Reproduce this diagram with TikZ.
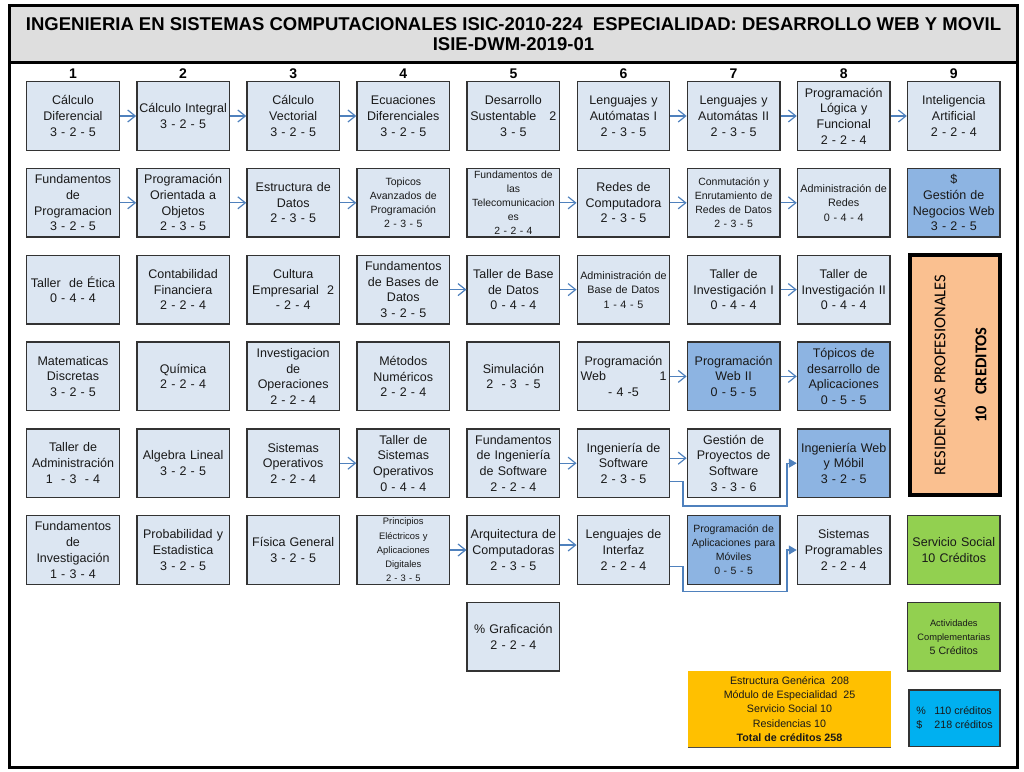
\documentclass[tikz,border=0pt]{standalone}
\usepackage{fontspec}
\setmainfont{Liberation Sans}
\newfontfamily\calibfont{Carlito}
\usetikzlibrary{arrows.meta}
\definecolor{lightbox}{HTML}{DCE6F2}
\definecolor{darkbox}{HTML}{8DB4E2}
\definecolor{arrowblue}{HTML}{4F81BD}
\definecolor{resfill}{HTML}{FAC090}
\definecolor{greenbox}{HTML}{92D050}
\definecolor{orangebox}{HTML}{FFC000}
\definecolor{cyanbox}{HTML}{00B0F0}
\definecolor{titlegray}{HTML}{DEDEDE}
\newcommand\myfs[2]{\fontsize{#1}{#2}\selectfont}
\begin{document}
\begin{tikzpicture}[x=1pt,y=-1pt,
 course/.style={draw=black!80, line width=1.4pt, fill=lightbox, minimum width=92.5pt, minimum height=68.5pt, inner sep=0pt, text width=92pt, align=center, font=\myfs{12.5}{15.7}, text=black!90},
 spec/.style={course, fill=darkbox},
 midfont/.style={font=\myfs{10.5}{14}},
 telefont/.style={font=\myfs{10.4}{14.2}},
 adminfont/.style={font=\myfs{10.8}{14.5}},
 smallfont/.style={font=\myfs{9.4}{14.2}},
 arr/.style={draw=arrowblue, line width=1.2pt, -{Straight Barb[length=7.5pt,width=12pt]}},
 route/.style={draw=arrowblue, line width=1.2pt, -{Triangle[length=8pt,width=9pt]}},
 colnum/.style={font=\bfseries\myfs{14}{16}, anchor=base},
 titletext/.style={font=\bfseries\myfs{18.5}{22}, anchor=base, inner sep=0pt},
 ]
\useasboundingbox (0,0) rectangle (1024,771);
% frame
\fill[titlegray] (9.5,5) rectangle (1017.5,62.5);
\draw[line width=3pt] (9.5,5) rectangle (1017.5,767);
\draw[line width=3pt] (9.5,62.5) -- (1017.5,62.5);
\node[titletext] (title1) at (513.5,30.3) {INGENIERIA EN SISTEMAS COMPUTACIONALES ISIC-2010-224\ \ ESPECIALIDAD: DESARROLLO WEB Y MOVIL};
\node[titletext] (title2) at (513.5,50) {ISIE-DWM-2019-01};
% column numbers
\node[colnum] (n1) at (73,78.3) {1};
\node[colnum] (n2) at (183.1,78.3) {2};
\node[colnum] (n3) at (293.2,78.3) {3};
\node[colnum] (n4) at (403.3,78.3) {4};
\node[colnum] (n5) at (513.4,78.3) {5};
\node[colnum] (n6) at (623.5,78.3) {6};
\node[colnum] (n7) at (733.6,78.3) {7};
\node[colnum] (n8) at (843.7,78.3) {8};
\node[colnum] (n9) at (953.8,78.3) {9};
% row 1
\node[course] (r1c1) at (73,116) {Cálculo\\Diferencial\\3 - 2 - 5};
\node[course] (r1c2) at (183.1,116) {Cálculo Integral\\3 - 2 - 5};
\node[course] (r1c3) at (293.2,116) {Cálculo\\Vectorial\\3 - 2 - 5};
\node[course] (r1c4) at (403.3,116) {Ecuaciones\\Diferenciales\\3 - 2 - 5};
\node[course] (r1c5) at (513.4,116) {Desarrollo\\\makebox[86pt]{Sustentable\hfill 2}\\3 - 5};
\node[course] (r1c6) at (623.5,116) {Lenguajes y\\Autómatas I\\2 - 3 - 5};
\node[course] (r1c7) at (733.6,116) {Lenguajes y\\Automátas II\\2 - 3 - 5};
\node[course] (r1c8) at (843.7,116) {Programación\\Lógica y\\Funcional\\2 - 2 - 4};
\node[course] (r1c9) at (953.8,116) {Inteligencia\\Artificial\\2 - 2 - 4};
% row 2
\node[course] (r2c1) at (73,202.8) {Fundamentos\\de\\Programacion\\3 - 2 - 5};
\node[course] (r2c2) at (183.1,202.8) {Programación\\Orientada a\\Objetos\\2 - 3 - 5};
\node[course] (r2c3) at (293.2,202.8) {Estructura de\\Datos\\2 - 3 - 5};
\node[course, midfont] (r2c4) at (403.3,202.8) {Topicos\\Avanzados de\\Programación\\2 - 3 - 5};
\node[course, telefont] (r2c5) at (513.4,202.8) {Fundamentos de\\las\\Telecomunicacion\\es\\2 - 2 - 4};
\node[course] (r2c6) at (623.5,202.8) {Redes de\\Computadora\\2 - 3 - 5};
\node[course, midfont] (r2c7) at (733.6,202.8) {Conmutación y\\Enrutamiento de\\Redes de Datos\\2 - 3 - 5};
\node[course, adminfont] (r2c8) at (843.7,202.8) {Administración de\\Redes\\0 - 4 - 4};
\node[spec] (r2c9) at (953.8,202.8) {\$\\Gestión de\\Negocios Web\\3 - 2 - 5};
% row 3
\node[course] (r3c1) at (73,289.6) {Taller\ \ de Ética\\0 - 4 - 4};
\node[course] (r3c2) at (183.1,289.6) {Contabilidad\\Financiera\\2 - 2 - 4};
\node[course] (r3c3) at (293.2,289.6) {Cultura\\\makebox[82pt]{Empresarial\hfill 2}\\- 2 - 4};
\node[course] (r3c4) at (403.3,289.6) {Fundamentos\\de Bases de\\Datos\\3 - 2 - 5};
\node[course] (r3c5) at (513.4,289.6) {Taller de Base\\de Datos\\0 - 4 - 4};
\node[course, adminfont] (r3c6) at (623.5,289.6) {Administración de\\Base de Datos\\1 - 4 - 5};
\node[course] (r3c7) at (733.6,289.6) {Taller de\\Investigación I\\0 - 4 - 4};
\node[course] (r3c8) at (843.7,289.6) {Taller de\\Investigación II\\0 - 4 - 4};
% row 4
\node[course] (r4c1) at (73,376.4) {Matematicas\\Discretas\\3 - 2 - 5};
\node[course] (r4c2) at (183.1,376.4) {Química\\2 - 2 - 4};
\node[course] (r4c3) at (293.2,376.4) {Investigacion\\de\\Operaciones\\2 - 2 - 4};
\node[course] (r4c4) at (403.3,376.4) {Métodos\\Numéricos\\2 - 2 - 4};
\node[course] (r4c5) at (513.4,376.4) {Simulación\\2\ \ - 3\ \ - 5};
\node[course] (r4c6) at (623.5,376.4) {Programación\\\makebox[86pt]{Web\hfill 1}\\- 4 -5};
\node[spec] (r4c7) at (733.6,376.4) {Programación\\Web II\\0 - 5 - 5};
\node[spec] (r4c8) at (843.7,376.4) {Tópicos de\\desarrollo de\\Aplicaciones\\0 - 5 - 5};
% row 5
\node[course] (r5c1) at (73,463.2) {Taller de\\Administración\\1\ \ - 3\ \ - 4};
\node[course] (r5c2) at (183.1,463.2) {Algebra Lineal\\3 - 2 - 5};
\node[course] (r5c3) at (293.2,463.2) {Sistemas\\Operativos\\2 - 2 - 4};
\node[course] (r5c4) at (403.3,463.2) {Taller de\\Sistemas\\Operativos\\0 - 4 - 4};
\node[course] (r5c5) at (513.4,463.2) {Fundamentos\\de Ingeniería\\de Software\\2 - 2 - 4};
\node[course] (r5c6) at (623.5,463.2) {Ingeniería de\\Software\\2 - 3 - 5};
\node[course] (r5c7) at (733.6,463.2) {Gestión de\\Proyectos de\\Software\\3 - 3 - 6};
\node[spec] (r5c8) at (843.7,463.2) {Ingeniería Web\\y Móbil\\3 - 2 - 5};
% row 6
\node[course] (r6c1) at (73,550) {Fundamentos\\de\\Investigación\\1 - 3 - 4};
\node[course] (r6c2) at (183.1,550) {Probabilidad y\\Estadistica\\3 - 2 - 5};
\node[course] (r6c3) at (293.2,550) {Física General\\3 - 2 - 5};
\node[course, smallfont] (r6c4) at (403.3,550) {Principios\\Eléctricos y\\Aplicaciones\\Digitales\\2 - 3 - 5};
\node[course] (r6c5) at (513.4,550) {Arquitectura de\\Computadoras\\2 - 3 - 5};
\node[course] (r6c6) at (623.5,550) {Lenguajes de\\Interfaz\\2 - 2 - 4};
\node[spec, midfont] (r6c7) at (733.6,550) {Programación de\\Aplicaciones para\\Móviles\\0 - 5 - 5};
\node[course] (r6c8) at (843.7,550) {Sistemas\\Programables\\2 - 2 - 4};
\node[course, fill=greenbox] (r6c9) at (953.8,550) {Servicio Social\\10 Créditos};
% row 7
\node[course] (r7c5) at (513.4,636.8) {\% Graficación\\2 - 2 - 4};
\node[course, fill=greenbox, font=\myfs{9.3}{14}] (r7c9) at (953.8,636.8) {Actividades\\Complementarias\\{\myfs{10.6}{14}5 Créditos}};
% residencias
\node[draw=black, line width=4pt, fill=resfill, minimum width=90pt, minimum height=240pt, inner sep=0pt] (res) at (955,375) {};
\node[rotate=90, font=\calibfont\myfs{16.5}{18}, inner sep=0pt] (restxt) at (940,375) {RESIDENCIAS PROFESIONALES};
\node[rotate=90, font=\calibfont\bfseries\myfs{16.5}{18}, inner sep=0pt] (rescred) at (981,375) {10\ \ \ CREDITOS};
% totals
\node[fill=orangebox, minimum width=203pt, minimum height=76pt, inner sep=0pt, align=center, font=\myfs{10.7}{14.1}, text=black!90] (tot) at (789.5,709) {Estructura Genérica\ \ 208\\Módulo de Especialidad\ \ 25\\Servicio Social 10\\Residencias 10\\\textbf{Total de créditos 258}};
\draw[black!70, line width=1pt] (tot.south west) -- (tot.south east);
\node[draw=black!80, line width=1.5pt, fill=cyanbox, minimum width=91pt, minimum height=56.5pt, inner sep=0pt, align=left, font=\myfs{10.7}{14.3}, text=black!90] (cred) at (954.5,718) {\makebox[18pt][l]{\%}110 créditos\\\makebox[18pt][l]{\$}218 créditos};
% arrows row 1
\draw[arr] (r1c1) -- (r1c2);
\draw[arr] (r1c2) -- (r1c3);
\draw[arr] (r1c3) -- (r1c4);
\draw[arr] (r1c6) -- (r1c7);
\draw[arr] (r1c7) -- (r1c8);
\draw[arr] (r1c8) -- (r1c9);
% row 2
\draw[arr] (r2c1) -- (r2c2);
\draw[arr] (r2c2) -- (r2c3);
\draw[arr] (r2c3) -- (r2c4);
\draw[arr] (r2c5) -- (r2c6);
\draw[arr] (r2c6) -- (r2c7);
\draw[arr] (r2c7) -- (r2c8);
% row 3
\draw[arr] (r3c4) -- (r3c5);
\draw[arr] (r3c5) -- (r3c6);
\draw[arr] (r3c7) -- (r3c8);
% row 4
\draw[arr] (r4c6) -- (r4c7);
\draw[arr] (r4c7) -- (r4c8);
% row 5
\draw[arr] (r5c3) -- (r5c4);
\draw[arr] (r5c5) -- (r5c6);
\draw[arr] ([yshift=5pt]r5c6.east) -- ([yshift=5pt]r5c7.west);
% row 6
\draw[arr] (r6c4) -- (r6c5);
\draw[arr] ([yshift=5pt]r6c5.east) -- ([yshift=5pt]r6c6.west);
% routed connectors
\coordinate (ka) at (683,506);
\coordinate (kb) at (787,506);
\draw[route] ([yshift=-18.5pt]r5c6.east) -| (ka) -- (kb) |- (r5c8.west);
\coordinate (kc) at (683,591.7);
\coordinate (kd) at (787,591.7);
\draw[route] ([yshift=-16.7pt]r6c6.east) -| (kc) -- (kd) |- (r6c8.west);
\end{tikzpicture}
\end{document}
